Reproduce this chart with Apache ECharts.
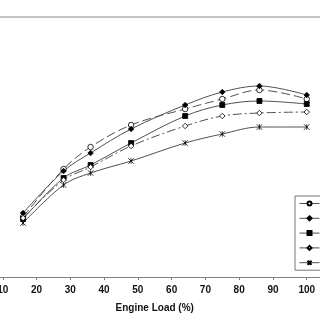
<!DOCTYPE html>
<html>
<head>
<meta charset="utf-8">
<script src="https://cdn.jsdelivr.net/npm/echarts@6/dist/echarts.min.js"></script>
<style>
  html, body { margin: 0; padding: 0; background: #fff; }
  #chart { width: 320px; height: 320px; }
</style>
</head>
<body>
<div id="chart"></div>
<script>
// engine load (%) for every series
const loads = [16, 28, 36, 48, 64, 75, 86, 100];

// y axis is cropped out of the picture, so values are in relative units
const seriesNames = ['Diesel', 'B20', 'B40', 'B60', 'B100'];
const openCircle = [60, 108, 130, 152, 168, 178, 187, 178];
const filledDiamond = [64, 106, 124, 148, 172, 185, 191, 182];
const filledSquare = [58, 99, 112, 134, 161, 172, 176, 173];
const openDiamond = [59, 97, 110, 131, 151, 161, 164, 165];
const starMark = [54, 92, 104, 116, 134, 143, 150, 150];

const xTicks = { min: 0, max: 110, interval: 10 };

const pairs = arr => arr.map((v, i) => [loads[i], v]);

function makeSeries(name, data, symbol, fill, dash) {
	return {
		name,
		type: 'line',
		data: pairs(data),
		smooth: 0.35,
		symbol,
		symbolSize: symbol === 'rect' ? 5 : 5.5,
		lineStyle: { color: '#505050', width: 1, type: dash },
		itemStyle: { color: fill, borderColor: '#000', borderWidth: 0.8 },
		emphasis: { disabled: true }
	};
}

const star = 'path://M0,0L10,10M10,0L0,10M5,0L5,10';

const chart = echarts.init(document.getElementById('chart'), null, { renderer: 'canvas' });

chart.setOption({
	animation: false,
	grid: {
		left: -31,
		top: 17,
		width: 371.5,
		bottom: 43,
		containLabel: false,
		outerBoundsMode: 'none'
	},
	xAxis: [{
		type: 'value',
		min: xTicks.min,
		max: xTicks.max,
		interval: xTicks.interval,
		splitLine: { show: false },
		axisLine: { lineStyle: { color: '#808080', width: 1 } },
		axisTick: { show: true, length: 3, lineStyle: { color: '#808080' } },
		axisLabel: {
			color: '#111',
			fontFamily: 'Liberation Sans',
			fontWeight: 'bold',
			fontSize: 10,
			margin: 8,
			showMaxLabel: false
		},
		name: 'Engine Load (%)',
		nameLocation: 'middle',
		nameGap: 26,
		nameTextStyle: {
			color: '#111',
			fontFamily: 'Liberation Sans',
			fontWeight: 'bold',
			fontSize: 10
		}
	}, {
		type: 'value',
		position: 'top',
		min: xTicks.min,
		max: xTicks.max,
		splitLine: { show: false },
		axisLine: { lineStyle: { color: '#c4c4c4', width: 2 } },
		axisTick: { show: false },
		axisLabel: { show: false }
	}],
	yAxis: {
		type: 'value',
		min: 0,
		max: 260,
		show: false
	},
	legend: {
		orient: 'vertical',
		left: 295,
		top: 196,
		padding: [3, 4, 3, 4],
		itemWidth: 20,
		itemHeight: 5,
		itemGap: 5.8,
		borderColor: '#777',
		borderWidth: 1,
		textStyle: { fontSize: 9, color: '#111', fontFamily: 'Liberation Sans' },
		lineStyle: { type: 'solid', width: 1 },
		data: seriesNames
	},
	series: [
		makeSeries(seriesNames[0], openCircle, 'circle', '#fff', [9, 4]),
		makeSeries(seriesNames[1], filledDiamond, 'diamond', '#000', 'solid'),
		makeSeries(seriesNames[2], filledSquare, 'rect', '#000', 'solid'),
		makeSeries(seriesNames[3], openDiamond, 'diamond', '#fff', [9, 3, 2, 3]),
		makeSeries(seriesNames[4], starMark, star, '#000', 'solid')
	]
});
</script>
</body>
</html>
